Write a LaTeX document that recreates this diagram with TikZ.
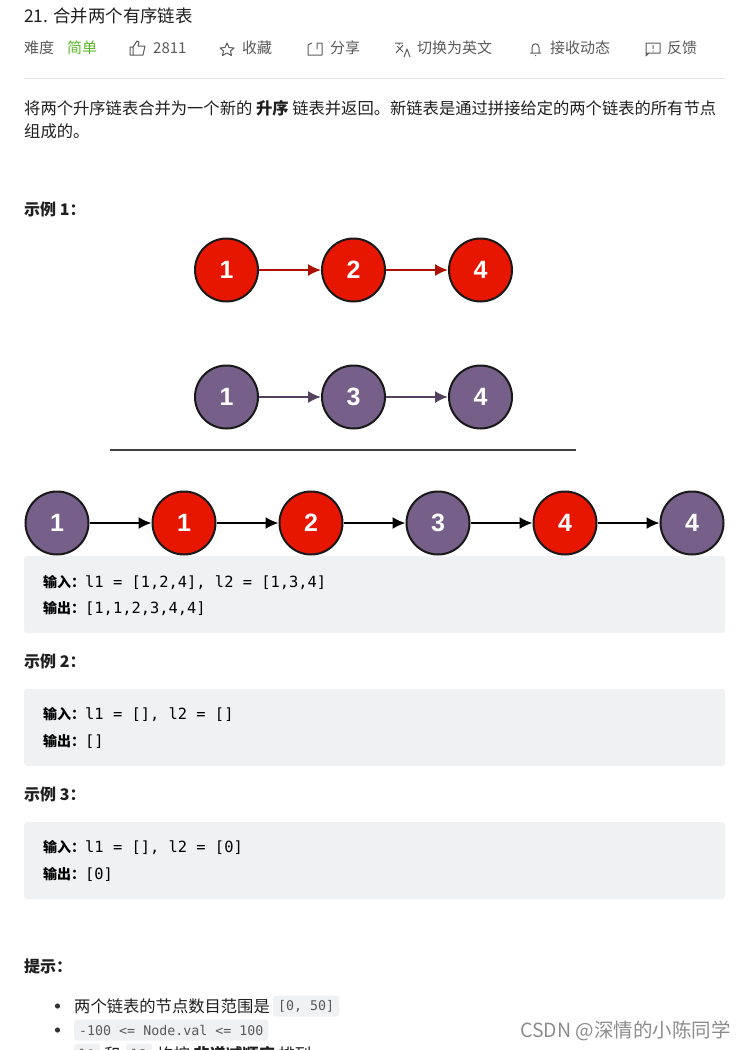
\documentclass[tikz,border=0pt]{standalone}
\usepackage{fontspec}
\setmainfont{Noto Sans CJK SC}
\setmonofont{DejaVu Sans Mono}
\newfontfamily\ballfont{Liberation Sans}
\usetikzlibrary{positioning,arrows.meta}
\definecolor{listred}{RGB}{231,22,0}
\definecolor{listpurple}{RGB}{118,96,138}
\definecolor{codebg}{RGB}{240,241,243}
\definecolor{textgrey}{RGB}{90,90,90}
\definecolor{easygreen}{RGB}{90,184,40}
\newcommand{\lab}[1]{{\fontsize{14}{14}\selectfont\rmfamily\bfseries #1}}
\tikzset{
  redball/.style={circle,draw=black!90,line width=2pt,fill=listred,text=white,minimum size=63pt,inner sep=0pt,font=\fontsize{25}{25}\selectfont\ballfont\bfseries},
  purpleball/.style={redball,fill=listpurple},
  link/.style={line width=1.8pt,-{Latex[length=13pt,width=12pt]}},
  txt/.style={anchor=west,inner sep=0pt,text=black!88,font=\fontsize{16.3}{16.3}\selectfont},
  head/.style={txt,font=\fontsize{16}{16}\selectfont\bfseries},
  meta/.style={txt,text=textgrey,font=\fontsize{15}{15}\selectfont},
  codebox/.style={fill=codebg,rounded corners=3pt,draw=none},
  code/.style={txt,text=black,font=\fontsize{15.4}{15.4}\selectfont\ttfamily},
  chip/.style={fill=codebg,rounded corners=3pt,inner xsep=5pt,inner ysep=0pt,minimum height=21pt,anchor=west,text=black!65,font=\fontsize{13.3}{13.3}\selectfont\ttfamily},
  icon/.style={draw=textgrey,line width=1pt,line join=round}
}
\begin{document}
\begin{tikzpicture}[x=1pt,y=-1pt]
\useasboundingbox (0,0) rectangle (745,1050);
\clip (0,0) rectangle (745,1050);
% title and toolbar
\node[head,font=\fontsize{17.4}{17.4}\selectfont] (title) at (24,16) {21. 合并两个有序链表};
\node[meta] (level) at (24,48) {难度};
\node[meta,text=easygreen] (easy) at (67,48) {简单};
\node[meta] (likes) at (153,48) {2811};
\node[meta] (fav) at (242,48) {收藏};
\node[meta] (share) at (330,48) {分享};
\node[meta] (lang) at (417,48) {切换为英文};
\node[meta] (notice) at (550,48) {接收动态};
\node[meta] (back) at (667,48) {反馈};
\draw[icon] (130,47) -- (133,47) -- (133,55) -- (130,55) -- cycle
  (133,47) -- (137,41) -- (139,42) -- (138,46) -- (145,46) -- (143,55) -- (133,55);
\draw[icon] (227,43) -- (229,47.5) -- (234,48) -- (230.5,51) -- (231.5,55.5) -- (227,53) -- (222.5,55.5) -- (223.5,51) -- (220,48) -- (225,47.5) -- cycle;
\draw[icon] (312,43) -- (308,45) -- (308,55) -- (322,55) -- (322,43) -- (317,43) (317,43) -- (317,49);
\draw[icon] (395,43) -- (403,43) (399,43) -- (399,45) (396,53) -- (403,45) (397,46) -- (403,52) (404,57) -- (407,49) -- (410,57);
\draw[icon] (530,53) -- (541,53) (532,53) -- (532,47.5) .. controls (532,42.5) and (539,42.5) .. (539,47.5) -- (539,53) (535.5,55) -- (535.5,56);
\draw[icon] (646,43) rectangle (660,53) (646,53) -- (646,56) -- (649,53) (653,45) -- (653,49) (653,50.5) -- (653,51.5);
\draw[draw=black!10,line width=.8pt] (24,78.5) -- (725,78.5);
% description
\node[txt] (desc) at (24,108) {将两个升序链表合并为一个新的 \textbf{升序} 链表并返回。新链表是通过拼接给定的两个链表的所有节点};
\node[txt] (descb) at (24,131) {组成的。};
\node[head] (exa) at (24,209) {示例 1：};
% first list
\node[redball] (a1) at (226.5,270) {1};
\node[redball,right=62pt of a1] (a2) {2};
\node[redball,right=62pt of a2] (a3) {4};
\draw[link,draw=listred!75!black] (a1) -- (a2);
\draw[link,draw=listred!75!black] (a2) -- (a3);
% second list
\node[purpleball] (b1) at (226.5,397) {1};
\node[purpleball,right=62pt of b1] (b2) {3};
\node[purpleball,right=62pt of b2] (b3) {4};
\draw[link,draw=listpurple!70!black] (b1) -- (b2);
\draw[link,draw=listpurple!70!black] (b2) -- (b3);
\coordinate (ruleL) at (110,450);
\coordinate (ruleR) at (576,450);
\draw[line width=2.4pt,draw=black!75] (ruleL) -- (ruleR);
% merged list
\node[purpleball] (c1) at (57,523) {1};
\node[redball,right=62pt of c1] (c2) {1};
\node[redball,right=62pt of c2] (c3) {2};
\node[purpleball,right=62pt of c3] (c4) {3};
\node[redball,right=62pt of c4] (c5) {4};
\node[purpleball,right=62pt of c5] (c6) {4};
\draw[link] (c1) -- (c2);
\draw[link] (c2) -- (c3);
\draw[link] (c3) -- (c4);
\draw[link] (c4) -- (c5);
\draw[link] (c5) -- (c6);
% examples
\draw[codebox] (24,556) rectangle (725,633);
\node[code] (ina) at (43,583) {\lab{输入：}l1 = [1,2,4], l2 = [1,3,4]};
\node[code] (outa) at (43,609) {\lab{输出：}[1,1,2,3,4,4]};
\node[head] (exb) at (24,661) {示例 2：};
\draw[codebox] (24,689) rectangle (725,766);
\node[code] (inb) at (43,715) {\lab{输入：}l1 = [], l2 = []};
\node[code] (outb) at (43,741) {\lab{输出：}[]};
\node[head] (exc) at (24,794) {示例 3：};
\draw[codebox] (24,822) rectangle (725,899);
\node[code] (inc) at (43,848) {\lab{输入：}l1 = [], l2 = [0]};
\node[code] (outc) at (43,874) {\lab{输出：}[0]};
% hints
\node[head] (hint) at (24,966) {提示：};
\fill[black!80] (57.5,1006) circle (2.6pt) (57.5,1030) circle (2.6pt);
\node[txt] (hinta) at (74,1006) {两个链表的节点数目范围是};
\node[chip] (chipa) at (273,1006) {[0, 50]};
\node[chip] (chipb) at (74,1030) {-100 <= Node.val <= 100};
\node[chip] (chipc) at (74,1054) {l1};
\node[txt] (hintb) at (104,1054) {和};
\node[chip] (chipd) at (126,1054) {l2};
\node[txt] (hintc) at (157,1054) {均按 \textbf{非递减顺序} 排列};
% watermark
\node[txt,text=black!45,font=\fontsize{19.5}{19.5}\selectfont] (mark) at (520,1031) {CSDN @深情的小陈同学};
\end{tikzpicture}
\end{document}
